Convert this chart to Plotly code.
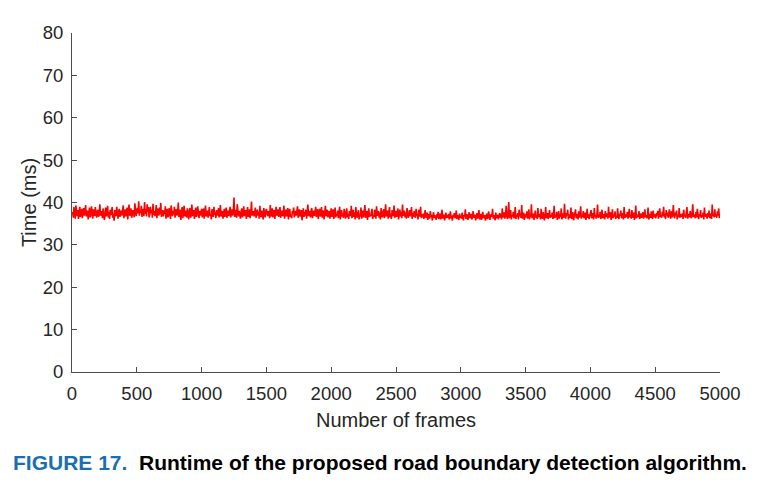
import plotly.graph_objects as go

# runtime per frame (ms), every 5 frames
runtime_ms = [
    37.8, 36.4, 38.9, 37.1, 36.2, 39.3, 37.6, 36.8, 38.2, 36.1, 37.4, 39.0, 36.6, 37.9, 38.5, 36.3, 37.2, 38.7, 36.9, 37.5,
    39.4, 36.7, 37.3, 38.1, 36.0, 37.8, 38.8, 36.5, 37.0, 39.1, 37.7, 36.2, 38.4, 37.1, 36.8, 38.9, 37.5, 36.4, 37.9, 38.3,
    36.6, 37.4, 39.6, 36.9, 37.2, 38.0, 36.3, 38.6, 37.7, 35.9, 37.1, 38.8, 36.7, 37.5, 39.2, 36.5, 37.8, 36.1, 38.3, 37.0,
    37.6, 38.9, 36.4, 37.3, 35.7, 38.2, 37.0, 36.8, 39.0, 37.4, 36.2, 37.9, 38.5, 36.6, 37.2, 38.1, 36.9, 37.7, 39.3, 36.3,
    37.1, 38.4, 36.7, 37.8, 38.8, 36.0, 37.5, 39.5, 36.9, 37.3, 38.6, 36.4, 37.0, 38.2, 37.7, 36.5, 39.8, 37.2, 36.8, 38.0,
    38.7, 37.4, 40.3, 36.9, 38.1, 37.6, 39.2, 36.6, 38.5, 37.9, 36.8, 40.1, 37.3, 38.4, 36.7, 39.6, 37.8, 38.9, 36.5, 37.2,
    39.0, 37.5, 38.3, 36.4, 39.7, 37.1, 38.0, 36.8, 37.6, 39.4, 36.3, 38.6, 37.4, 36.9, 38.8, 37.2, 39.9, 36.6, 37.7, 38.2,
    36.7, 38.1, 37.3, 39.1, 36.2, 37.9, 38.5, 36.5, 37.0, 38.7, 37.6, 36.1, 39.3, 37.4, 36.8, 38.0, 37.2, 39.0, 36.4, 37.8,
    38.4, 36.9, 37.5, 40.0, 36.6, 37.1, 38.3, 35.9, 37.7, 38.9, 36.3, 37.4, 39.2, 36.7, 38.1, 37.0, 36.5, 38.6, 37.3, 36.0,
    37.9, 38.7, 36.4, 37.2, 39.5, 36.8, 37.6, 38.2, 36.1, 37.4, 38.8, 36.6, 37.1, 39.1, 37.8, 36.3, 38.0, 36.9, 37.5, 38.5,
    36.5, 37.3, 38.6, 36.2, 37.9, 39.3, 36.7, 37.0, 38.1, 36.4, 37.6, 38.9, 36.8, 37.2, 36.0, 38.4, 37.7, 36.6, 39.0, 37.1,
    37.8, 36.3, 38.2, 37.4, 36.9, 38.7, 36.5, 37.1, 39.4, 36.7, 37.5, 38.0, 36.2, 37.9, 38.5, 36.6, 37.3, 38.8, 36.4, 37.0,
    38.1, 36.8, 37.6, 39.0, 36.5, 37.2, 38.4, 36.9, 37.7, 41.2, 36.6, 38.3, 37.1, 36.4, 39.6, 37.5, 36.7, 38.0, 37.3, 36.2,
    37.9, 38.6, 36.5, 37.2, 39.1, 36.8, 37.4, 38.2, 36.1, 37.7, 38.9, 36.6, 37.0, 38.4, 36.3, 37.6, 40.2, 36.9, 37.3, 38.0,
    36.7, 37.5, 38.8, 36.4, 37.1, 38.3, 36.9, 37.8, 36.2, 39.2, 37.0, 36.6, 38.1, 37.4, 36.0, 38.7, 37.2, 36.5, 37.9, 38.5,
    37.3, 36.8, 38.0, 37.6, 36.3, 39.4, 36.7, 37.1, 38.6, 36.5, 37.8, 38.2, 36.1, 37.4, 39.0, 36.9, 37.2, 38.4, 36.6, 37.7,
    38.9, 36.4, 37.5, 38.1, 36.8, 37.0, 39.3, 36.2, 37.6, 38.3, 36.7, 37.3, 38.7, 36.0, 37.9, 38.5, 36.6, 37.1, 36.3, 38.0,
    37.4, 38.8, 36.5, 37.2, 38.0, 36.9, 37.7, 39.1, 36.4, 37.0, 38.4, 36.7, 37.5, 38.2, 35.8, 37.3, 38.6, 36.6, 37.8, 36.9,
    38.3, 36.2, 37.6, 39.5, 36.8, 37.1, 38.0, 36.5, 37.9, 38.7, 36.3, 37.4, 38.1, 36.9, 37.2, 39.0, 36.6, 37.7, 38.4, 36.1,
    37.0, 38.5, 36.7, 37.3, 38.9, 36.4, 37.8, 38.1, 36.0, 37.5, 39.2, 36.8, 37.1, 38.3, 36.5, 37.6, 38.0, 36.2, 37.4, 38.6,
    36.6, 37.2, 38.4, 36.1, 37.0, 38.8, 36.5, 37.3, 36.8, 38.1, 36.3, 37.6, 39.0, 36.0, 37.1, 38.2, 36.7, 37.4, 36.4, 38.5,
    37.8, 36.2, 37.0, 38.6, 36.5, 37.3, 36.1, 38.0, 37.5, 36.8, 39.2, 36.3, 37.1, 38.3, 36.6, 37.7, 36.0, 38.9, 37.2, 36.4,
    37.5, 38.2, 36.0, 37.3, 36.7, 38.8, 36.2, 37.0, 38.1, 36.5, 37.6, 39.4, 36.4, 37.2, 38.0, 35.9, 37.4, 38.6, 36.6, 37.1,
    36.8, 37.9, 38.5, 36.1, 37.0, 36.6, 38.3, 37.4, 36.2, 39.1, 36.9, 37.3, 38.0, 36.4, 37.7, 36.0, 38.7, 37.1, 36.5, 37.8,
    38.4, 36.3, 37.2, 39.6, 36.7, 37.0, 38.1, 36.2, 37.5, 38.9, 36.5, 37.3, 36.1, 38.2, 37.6, 36.8, 39.3, 36.4, 37.0, 38.0,
    36.6, 37.4, 38.6, 36.0, 37.1, 38.3, 36.7, 37.8, 36.3, 39.5, 36.9, 37.2, 38.1, 36.5, 37.6, 36.2, 38.7, 37.0, 36.4, 37.3,
    38.2, 36.8, 37.0, 38.9, 36.1, 37.5, 36.6, 38.0, 37.3, 36.4, 38.5, 36.9, 37.1, 36.0, 38.3, 37.4, 36.7, 39.0, 36.3, 37.2,
    36.5, 37.4, 36.1, 37.0, 38.2, 36.4, 36.8, 37.6, 35.9, 36.7, 37.3, 36.2, 38.0, 36.6, 37.1, 35.8, 36.9, 37.7, 36.3, 37.0,
    36.6, 35.9, 37.2, 36.4, 37.8, 36.1, 36.8, 37.4, 36.0, 36.7, 38.3, 36.2, 36.9, 37.1, 35.8, 36.5, 37.6, 36.3, 37.0, 36.4,
    37.3, 36.0, 36.7, 37.9, 36.2, 36.9, 35.7, 37.1, 36.5, 37.5, 36.3, 36.8, 38.1, 36.1, 37.0, 36.6, 35.9, 37.4, 36.4, 36.9,
    36.2, 37.6, 36.5, 35.8, 37.0, 36.7, 38.4, 36.1, 36.8, 37.2, 35.9, 36.6, 37.7, 36.3, 36.9, 37.3, 36.0, 36.5, 38.0, 36.4,
    36.8, 37.1, 35.8, 36.6, 37.5, 36.2, 36.9, 38.2, 36.0, 36.7, 37.3, 35.9, 36.5, 37.8, 36.3, 36.9, 37.0, 35.7, 36.6, 37.4,
    36.1, 36.7, 37.9, 36.4, 35.9, 37.2, 36.6, 36.9, 38.5, 36.2, 37.0, 36.5, 35.8, 37.6, 36.3, 36.8, 37.1, 36.0, 36.7, 37.5,
    36.4, 37.3, 36.0, 38.6, 36.8, 36.5, 37.7, 36.2, 37.0, 39.2, 36.6, 36.1, 37.4, 40.1, 36.3, 36.9, 38.2, 36.0, 37.1, 36.7,
    37.8, 36.3, 36.9, 38.9, 36.1, 37.2, 36.6, 37.5, 36.0, 38.3, 36.8, 37.0, 36.4, 39.4, 36.2, 36.9, 37.6, 35.9, 36.7, 37.3,
    36.5, 37.9, 36.2, 36.8, 38.4, 36.0, 37.1, 36.6, 39.6, 36.3, 36.9, 37.4, 35.9, 36.7, 38.1, 36.4, 37.0, 36.1, 38.7, 36.5,
    36.9, 37.3, 36.0, 38.5, 36.6, 36.2, 37.7, 36.8, 35.8, 37.1, 38.9, 36.3, 36.7, 37.5, 36.1, 36.9, 38.2, 36.4, 37.0, 36.6,
    37.6, 36.1, 36.8, 39.2, 36.3, 37.0, 36.5, 37.8, 35.9, 36.7, 38.0, 36.2, 37.3, 36.6, 38.6, 36.0, 36.9, 37.4, 36.4, 39.7,
    36.7, 36.2, 37.5, 36.9, 38.3, 36.0, 36.6, 37.2, 36.4, 38.8, 36.1, 36.9, 37.7, 35.8, 36.5, 37.0, 38.4, 36.3, 36.8, 37.3,
    36.0, 37.9, 36.5, 36.8, 39.1, 36.2, 37.1, 36.6, 38.0, 36.3, 36.9, 37.6, 35.9, 36.7, 38.5, 36.4, 37.2, 36.1, 36.8, 37.4,
    38.2, 36.3, 36.9, 37.5, 36.0, 38.7, 36.6, 37.1, 36.2, 36.8, 39.5, 36.4, 37.0, 36.5, 37.8, 36.1, 36.7, 38.3, 36.3, 36.9,
    37.2, 36.0, 38.0, 36.6, 36.9, 37.4, 36.2, 39.0, 36.5, 36.8, 37.7, 35.9, 36.6, 38.4, 36.3, 37.1, 36.7, 37.9, 36.1, 36.8,
    36.4, 38.6, 36.7, 36.1, 37.3, 36.9, 38.1, 36.3, 36.6, 37.5, 36.0, 38.9, 36.8, 36.4, 37.2, 36.6, 37.8, 36.2, 36.9, 38.5,
    36.5, 37.0, 36.2, 38.2, 36.8, 36.4, 37.6, 35.9, 36.7, 39.3, 36.3, 36.9, 37.1, 36.6, 38.0, 36.1, 36.8, 37.4, 36.4, 36.9,
    37.7, 36.2, 36.8, 38.4, 36.5, 37.0, 36.3, 36.9, 38.8, 36.0, 36.6, 37.3, 36.4, 37.9, 36.7, 36.1, 38.1, 36.5, 37.2, 36.8,
    36.3, 37.5, 36.9, 38.0, 36.2, 37.2, 38.6, 36.6, 37.0, 36.4, 37.8, 36.8, 39.0, 36.5, 37.3, 36.1, 38.2, 36.9, 37.6, 36.4,
    37.1, 38.4, 36.7, 36.2, 37.9, 36.5, 37.3, 39.4, 36.8, 36.3, 37.6, 36.9, 38.1, 36.0, 37.0, 36.6, 38.7, 36.4, 37.2, 36.8,
    36.6, 37.4, 36.1, 38.3, 36.7, 37.0, 36.4, 37.7, 38.9, 36.2, 36.8, 37.3, 36.5, 38.0, 36.9, 36.3, 37.5, 39.6, 36.6, 37.1,
    36.9, 36.3, 37.8, 36.5, 38.5, 36.8, 36.1, 37.2, 36.7, 38.2, 36.4, 37.0, 36.6, 37.6, 36.0, 38.8, 36.7, 36.9, 37.3, 36.2,
    37.5, 36.6, 38.1, 36.3, 36.9, 37.4, 36.1, 39.5, 36.8, 37.0, 36.5, 38.4, 36.7, 37.2, 36.4, 37.9, 36.9, 38.6, 36.3, 37.4,
]
frames = list(range(5, 5001, 5))

x_ticks = list(range(0, 5001, 500))
y_ticks = list(range(0, 81, 10))

fig = go.Figure()
fig.add_trace(go.Scatter(x=frames, y=runtime_ms, mode='lines',
                         line=dict(color='#ff0000', width=1.6), showlegend=False))

axis_font = dict(family='Liberation Sans, Arial', size=18.5, color='#262626')

# page body adds 8px, so the figure is 8px smaller than the window
fig.update_layout(
    width=764, height=487,
    margin=dict(l=64, r=52, t=25, b=123),
    paper_bgcolor='white', plot_bgcolor='white',
    font=axis_font,
    xaxis=dict(range=[0, 5000], tickvals=x_ticks, showgrid=False, zeroline=False,
               showline=True, linecolor='#4d4d4d', linewidth=1, automargin=False,
               ticks='inside', ticklen=5, tickcolor='#4d4d4d', ticklabelstandoff=5,
               title=dict(text='Number of frames', font=dict(size=20, color='#262626'), standoff=9)),
    yaxis=dict(range=[0, 80], tickvals=y_ticks, showgrid=False, zeroline=False,
               showline=True, linecolor='#4d4d4d', linewidth=1, automargin=False,
               ticks='inside', ticklen=5, tickcolor='#4d4d4d', ticklabelstandoff=4,
               title=dict(text='Time (ms)', font=dict(size=20, color='#262626'), standoff=0)),
)

fig.add_annotation(
    xref='paper', yref='paper', x=0.475, y=-0.268,
    xanchor='center', yanchor='middle', showarrow=False,
    text="<b><span style='color:#1a6fb3'>FIGURE 17.</span>&nbsp;&nbsp;Runtime of the proposed road boundary detection algorithm.</b>",
    font=dict(family='Liberation Sans Narrow, Arial Narrow, Liberation Sans', size=21, color='black'),
)

fig.write_html("out.html")
